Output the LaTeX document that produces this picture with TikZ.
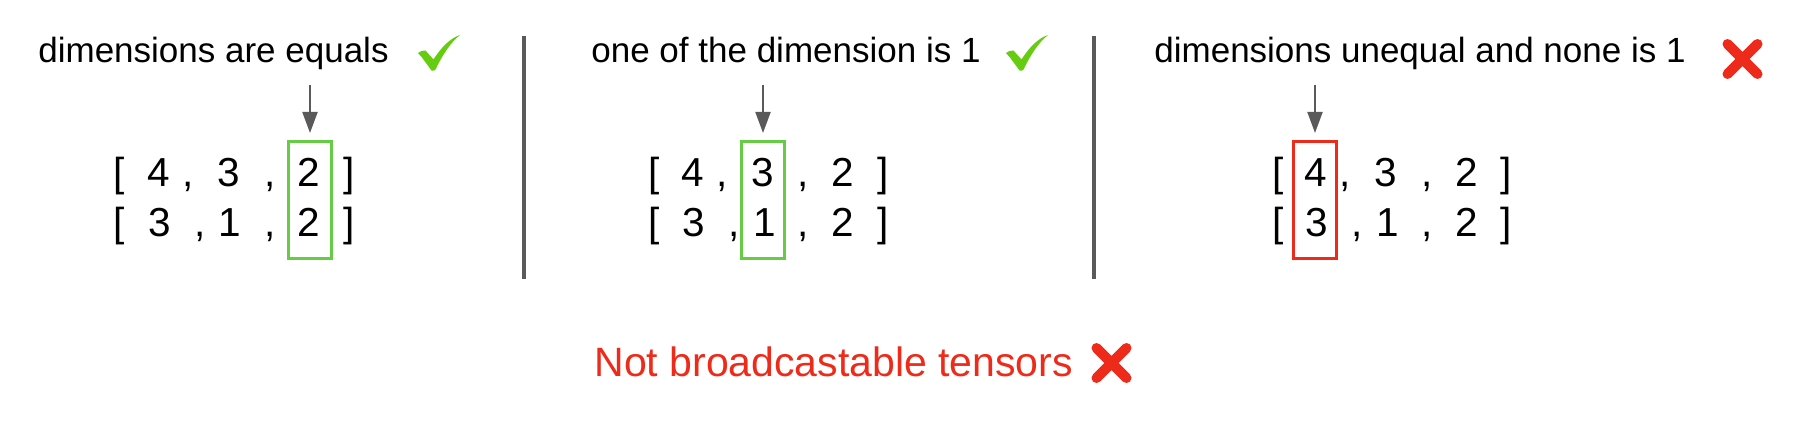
\documentclass[tikz,border=0pt]{standalone}
\usepackage{fontspec}
\setmainfont{Liberation Sans}
\usetikzlibrary{arrows.meta}

\definecolor{okgreen}{HTML}{66CC11}
\definecolor{boxgreen}{HTML}{66CC44}
\definecolor{badred}{HTML}{EE2B1B}
\definecolor{ruleg}{HTML}{5A5A5A}

\tikzset{
  tickmark/.pic={
    \fill[okgreen] (0,18) -- (4,22.5) -- (13.5,35.5)
      .. controls (15,36.2) and (16.5,35.8) .. (17.5,34.5)
      .. controls (24,21) and (32,8) .. (42,0)
      .. controls (33,3) and (24,11) .. (15.5,24.5)
      -- (7.5,15.5) .. controls (4.5,15.3) and (2,16.3) .. (0,18) -- cycle;
  },
  crossmark/.pic={
    \draw[badred, line width=5pt, line cap=round] (-15,-15) -- (15,15) (-15,15) -- (15,-15);
  }
}

\begin{document}
\begin{tikzpicture}[x=0.5pt, y=-0.5pt,
  title/.style={anchor=base west, inner sep=0, font=\fontsize{17.5}{21}\selectfont},
  num/.style={anchor=base, inner sep=0, font=\fontsize{20.25}{24}\selectfont},
  pickbox/.style={draw, line width=1.5pt, minimum width=21.5pt, minimum height=58.5pt, inner sep=0},
  pointer/.style={draw=ruleg, line width=1pt, -{Triangle[length=10.5pt, width=7.5pt]}, shorten >=3.5pt},
  divider/.style={draw=ruleg, line width=2.2pt}]
  \useasboundingbox (0,0) rectangle (1810,422);

  % panel 1: dimensions are equal
  \node[title] (t1) at (38,63) {dimensions are equals};
  \pic at (418,35) {tickmark};
  \foreach \x/\t [count=\i] in {119.5/{[}, 159/4, 188/{,}, 228.5/3, 270/{,}, 309/2, 349.5/{]}}
    \node[num] (a1-\i) at (\x,187) {\t};
  \foreach \x/\t [count=\i] in {119.5/{[}, 159.5/3, 200/{,}, 229.5/1, 270/{,}, 309/2, 349.5/{]}}
    \node[num] (a2-\i) at (\x,237) {\t};
  \node[pickbox, draw=boxgreen] (box1) at (310,200) {};
  \coordinate (p1) at (310,85);
  \draw[pointer] (p1) -- (box1.north);

  \draw[divider] (524,36) -- (524,279);

  % panel 2: one of them is 1
  \node[title] (t2) at (591,63) {one of the dimension is 1};
  \pic at (1006,35) {tickmark};
  \foreach \x/\t [count=\i] in {654/{[}, 693/4, 722/{,}, 763/3, 803/{,}, 843/2, 883/{]}}
    \node[num] (b1-\i) at (\x,187) {\t};
  \foreach \x/\t [count=\i] in {654/{[}, 693.5/3, 734/{,}, 764.5/1, 803/{,}, 843/2, 883/{]}}
    \node[num] (b2-\i) at (\x,237) {\t};
  \node[pickbox, draw=boxgreen] (box2) at (763,200) {};
  \coordinate (p2) at (763,85);
  \draw[pointer] (p2) -- (box2.north);

  \draw[divider] (1094,36) -- (1094,279);

  % panel 3: unequal, none is 1
  \node[title] (t3) at (1154,63) {dimensions unequal and none is 1};
  \pic at (1742.5,59) {crossmark};
  \foreach \x/\t [count=\i] in {1278/{[}, 1316/4, 1345/{,}, 1386/3, 1427/{,}, 1466.5/2, 1506/{]}}
    \node[num] (c1-\i) at (\x,187) {\t};
  \foreach \x/\t [count=\i] in {1278/{[}, 1317/3, 1357/{,}, 1387.5/1, 1427/{,}, 1466.5/2, 1506/{]}}
    \node[num] (c2-\i) at (\x,237) {\t};
  \node[pickbox, draw=badred] (box3) at (1315,200) {};
  \coordinate (p3) at (1315,85);
  \draw[pointer] (p3) -- (box3.north);

  % verdict
  \node[anchor=base west, inner sep=0, text=badred, font=\fontsize{20.5}{24}\selectfont] (verdict) at (594,376) {Not broadcastable tensors};
  \pic at (1111.5,363) {crossmark};
\end{tikzpicture}
\end{document}
